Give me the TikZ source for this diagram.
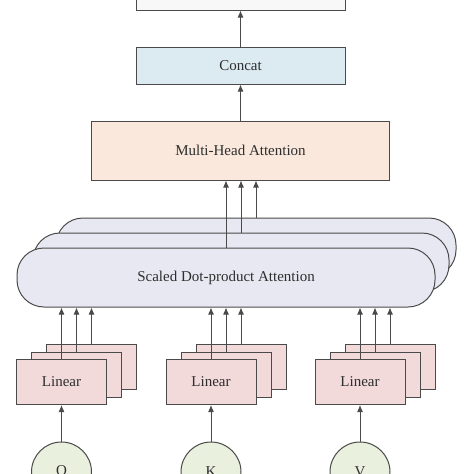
\documentclass[tikz,border=0pt]{standalone}
\usepackage{fontspec}
\setmainfont{Liberation Serif}
\usepackage{tikz}
\usepackage{xcolor}
\usetikzlibrary{
    arrows.meta,
    calc,
    positioning
}
\definecolor{linecol}{HTML}{4A4A4A}
\definecolor{textcol}{HTML}{2E2E2E}
\definecolor{outfill}{HTML}{F8F8F8}
\definecolor{concatfill}{HTML}{DCEBF1}
\definecolor{mhafill}{HTML}{F9E8DB}
\definecolor{sdpafill}{HTML}{E8E8F2}
\definecolor{linfill}{HTML}{F2DADB}
\definecolor{infill}{HTML}{E9F0DD}

\begin{document}
\begin{tikzpicture}[x=1pt, y=-1pt,
        every node/.style={text=textcol, font=\fontsize{15}{17}\selectfont},
        box/.style={draw=linecol, line width=1pt, rectangle, inner sep=0pt},
        layer/.style={box, fill=sdpafill, rounded corners=27pt, minimum height=59pt},
        linbox/.style={box, fill=linfill, minimum width=90pt, minimum height=45pt},
        inbox/.style={draw=linecol, line width=1pt, circle, fill=infill, minimum size=60pt, inner sep=0pt},
        arr/.style={draw=linecol, line width=1pt, -{Latex[length=7pt, width=6pt]}}]
                        \useasboundingbox (0, 0) rectangle (474, 474);
                        \clip (0, 0) rectangle (474, 474);
                        % upper blocks
                        \node[box, fill=outfill, minimum width=209pt, minimum height=37pt] (out) at (240.5, -8.5) {};
                        \node[box, fill=concatfill, minimum width=209pt, minimum height=37pt] (concat) at (240.5, 65.5) {Concat};
                        \node[box, fill=mhafill, minimum width=298pt, minimum height=59pt] (mha) at (240.5, 150.5) {Multi-Head Attention};
                        % attention layers, back to front
                        \node[layer, minimum width=400pt] (sdpa3) at (256, 247.5) {};
                        \node[layer, minimum width=416pt] (sdpa2) at (241, 262.5) {};
                        \node[layer, minimum width=418pt] (sdpa1) at (226, 277.5) {Scaled Dot-product Attention};
                        % linear stacks
                        \foreach \n/\x in {q/61.5, k/211, v/360} {
                            \node[linbox] (\n3) at (\x+30, 367) {};
                            \node[linbox] (\n2) at (\x+15, 374.5) {};
                            \node[linbox] (\n1) at (\x, 382) {Linear};
                        }
                        % inputs
                        \node[inbox] (q) at (61.5, 472) {Q};
                        \node[inbox] (k) at (211, 472) {K};
                        \node[inbox] (v) at (360, 472) {V};
                        % connectors
                        \foreach \n in {q, k, v} {
                            \draw[arr] (\n) -- (\n1);
                            \foreach \i in {1, 2, 3}
                                \draw[arr] (\n\i.north) -- (\n\i.north |- sdpa1.south);
                        }
                        \foreach \i in {1, 2, 3}
                            \draw[arr] (sdpa\i.north) -- (sdpa\i.north |- mha.south);
                        \draw[arr] (mha) -- (concat);
                        \draw[arr] (concat) -- (out);
                    \end{tikzpicture}
\end{document}
